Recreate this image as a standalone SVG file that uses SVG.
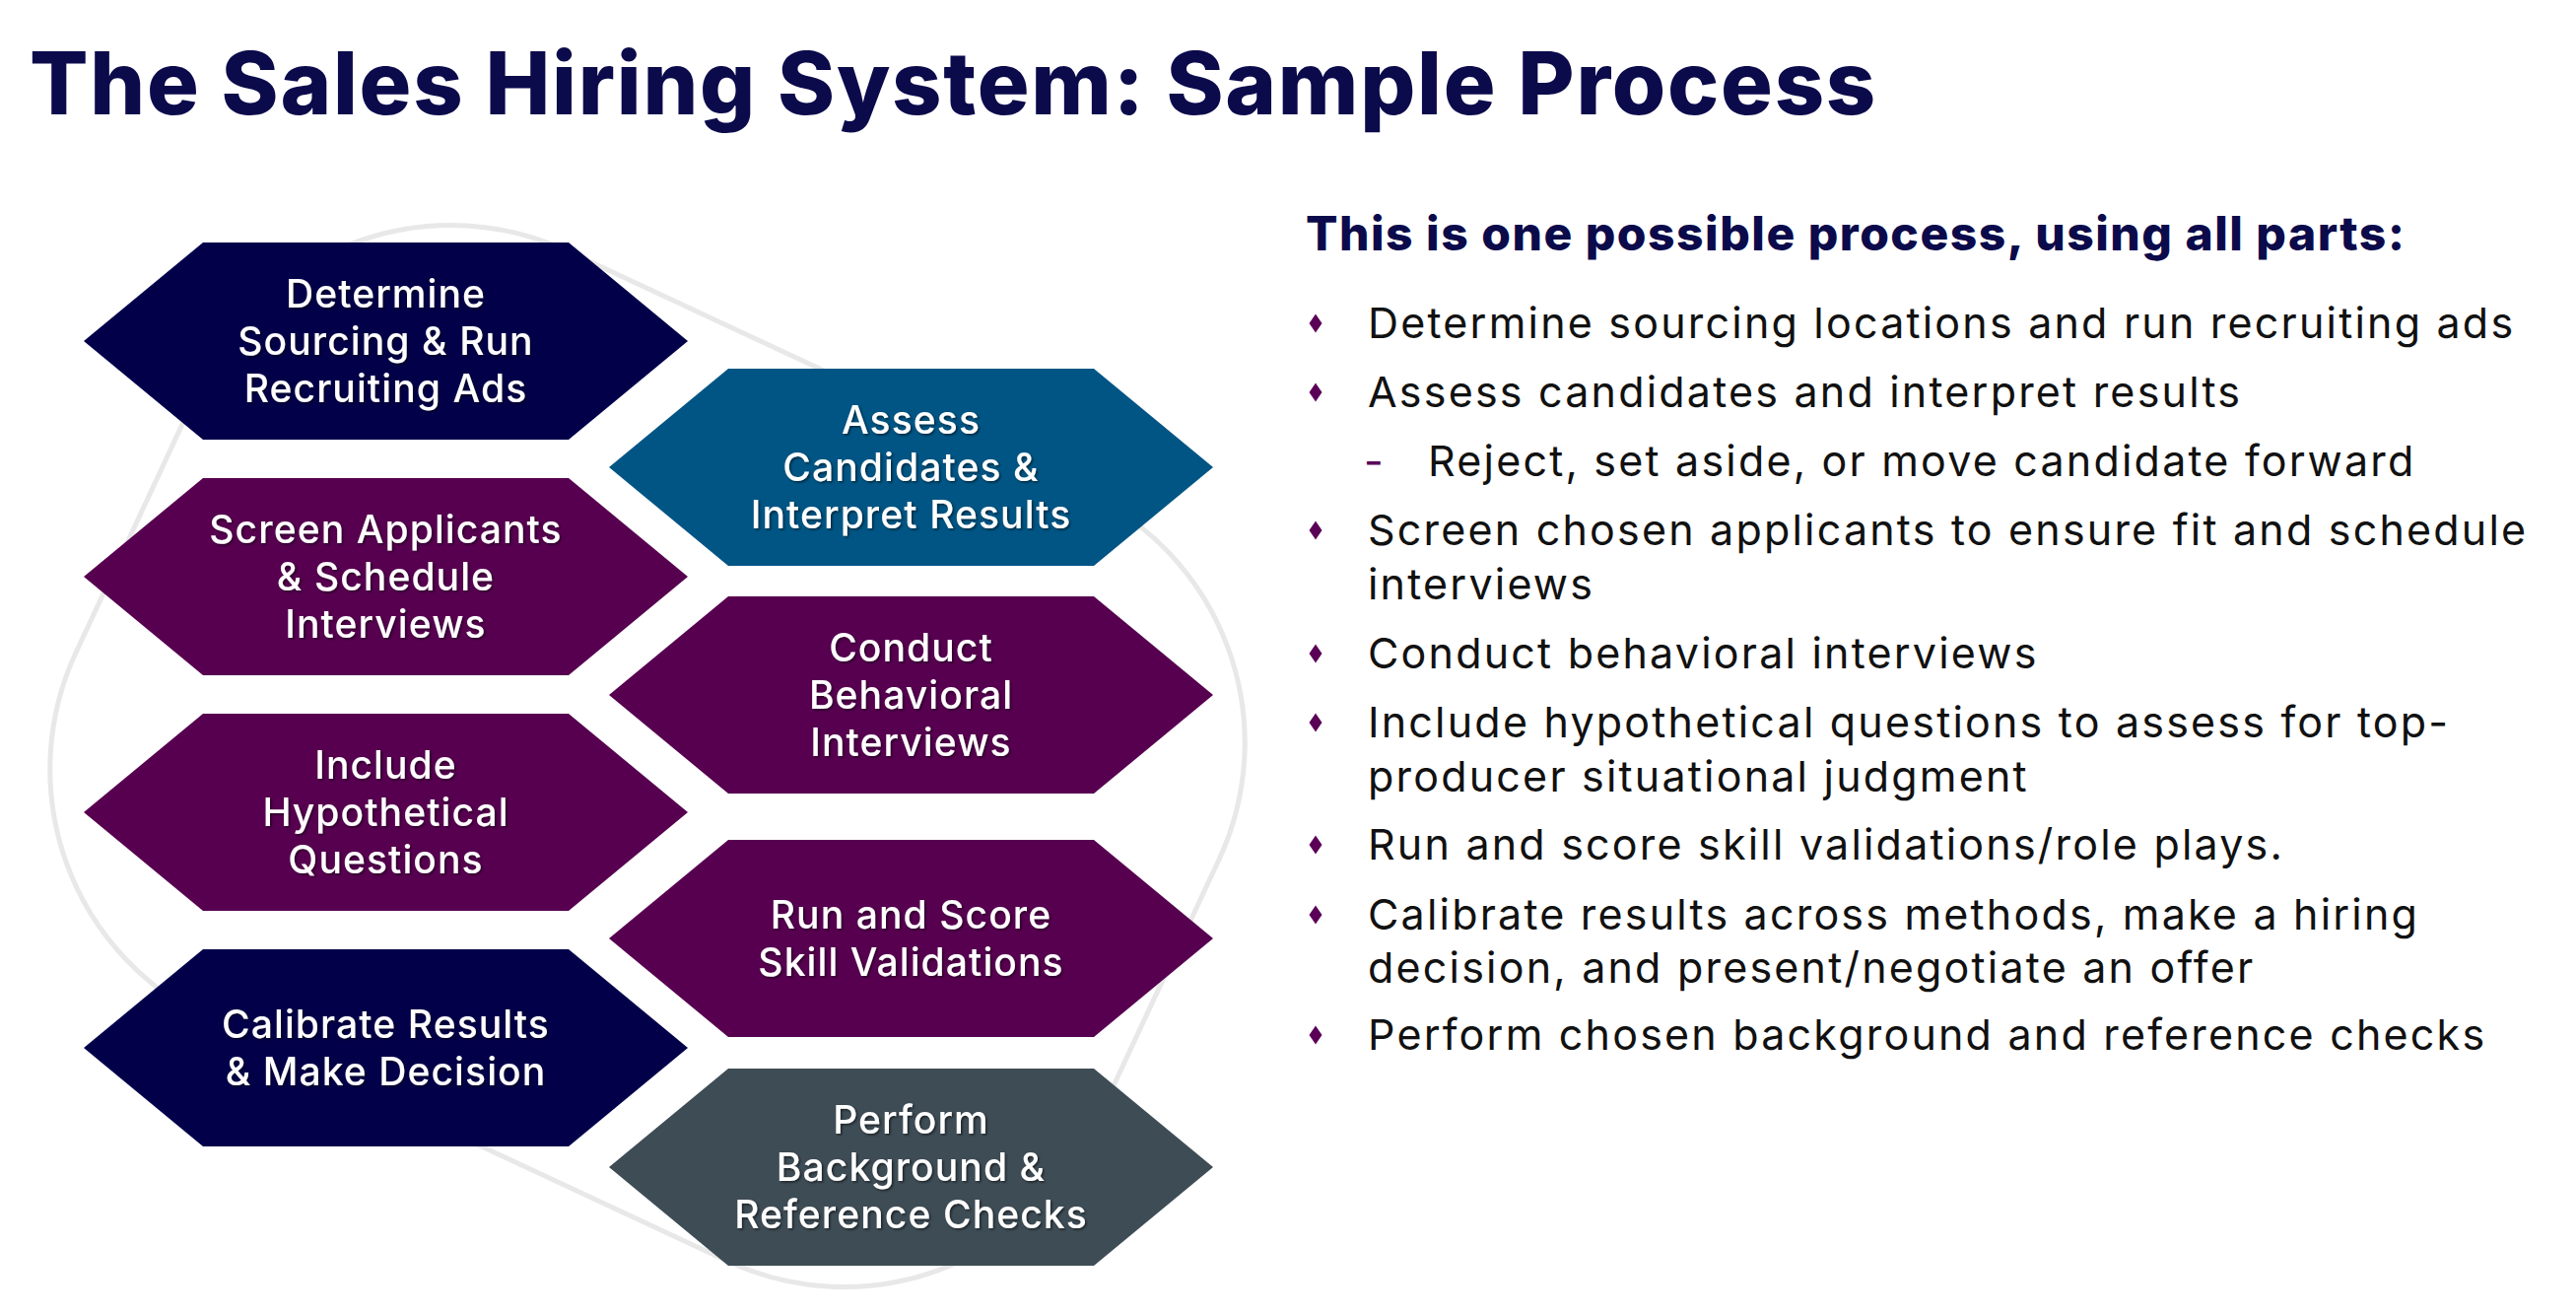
<svg xmlns="http://www.w3.org/2000/svg" width="2614" height="1334" viewBox="0 0 2614 1334">
<defs>
<style>
.hex-text{font-family:Inter,"Noto Sans",sans-serif;font-weight:500;font-size:39px;letter-spacing:1.1px;fill:#ffffff;text-anchor:middle;filter:url(#sh)}
.navy{fill:#03004a}
.purple{fill:#570050}
.teal{fill:#005584}
.gray{fill:#3e4c55}
.bullet{font-family:Inter,"Noto Sans",sans-serif;font-weight:400;font-size:43px;letter-spacing:2.2px;fill:#111111}
.dia{fill:#5a0057}
</style>
<filter id="sh" x="-10%" y="-30%" width="120%" height="160%">
<feDropShadow dx="1.5" dy="1.5" stdDeviation="1.2" flood-color="#000000" flood-opacity="0.55"/>
</filter>
<polygon id="hexL" points="0,100 121,0 492,0 613,100 492,200 121,200"/>
<path id="dmd" d="M0,-9.5 L6.5,0 L0,9.5 L-6.5,0 Z"/>
</defs>
<rect width="2614" height="1334" fill="#ffffff"/>
<text x="30" y="116" font-family="Inter,'Noto Sans',sans-serif" font-weight="800" font-size="88" letter-spacing="1.75" fill="#0b0a4b">The Sales Hiring System: Sample Process</text>

<g id="outline">
<rect x="-570" y="-430" width="1140" height="860" rx="280" ry="280" transform="translate(657,767) rotate(25)" fill="none" stroke="#e8e8e8" stroke-width="5"/>
</g>

<g id="n1">
<use href="#hexL" x="85" y="246" class="navy"/>
<text class="hex-text"><tspan x="391.5" y="312">Determine</tspan><tspan x="391.5" y="360">Sourcing &amp; Run</tspan><tspan x="391.5" y="408">Recruiting Ads</tspan></text>
</g>
<g id="n2">
<use href="#hexL" x="618" y="374" class="teal"/>
<text class="hex-text"><tspan x="924.5" y="440">Assess</tspan><tspan x="924.5" y="488">Candidates &amp;</tspan><tspan x="924.5" y="536">Interpret Results</tspan></text>
</g>
<g id="n3">
<use href="#hexL" x="85" y="485" class="purple"/>
<text class="hex-text"><tspan x="391.5" y="551">Screen Applicants</tspan><tspan x="391.5" y="599">&amp; Schedule</tspan><tspan x="391.5" y="647">Interviews</tspan></text>
</g>
<g id="n4">
<use href="#hexL" x="618" y="605" class="purple"/>
<text class="hex-text"><tspan x="924.5" y="671">Conduct</tspan><tspan x="924.5" y="719">Behavioral</tspan><tspan x="924.5" y="767">Interviews</tspan></text>
</g>
<g id="n5">
<use href="#hexL" x="85" y="724" class="purple"/>
<text class="hex-text"><tspan x="391.5" y="790">Include</tspan><tspan x="391.5" y="838">Hypothetical</tspan><tspan x="391.5" y="886">Questions</tspan></text>
</g>
<g id="n6">
<use href="#hexL" x="618" y="852" class="purple"/>
<text class="hex-text"><tspan x="924.5" y="942">Run and Score</tspan><tspan x="924.5" y="990">Skill Validations</tspan></text>
</g>
<g id="n7">
<use href="#hexL" x="85" y="963" class="navy"/>
<text class="hex-text"><tspan x="391.5" y="1053">Calibrate Results</tspan><tspan x="391.5" y="1101">&amp; Make Decision</tspan></text>
</g>
<g id="n8">
<use href="#hexL" x="618" y="1084" class="gray"/>
<text class="hex-text"><tspan x="924.5" y="1150">Perform</tspan><tspan x="924.5" y="1198">Background &amp;</tspan><tspan x="924.5" y="1246">Reference Checks</tspan></text>
</g>

<g id="connectors"></g>

<g id="list">
<text x="1325" y="254" font-family="Inter,'Noto Sans',sans-serif" font-weight="800" font-size="48" letter-spacing="1.5" fill="#0b0a4b">This is one possible process, using all parts:</text>
<use href="#dmd" x="1335" y="328" class="dia"/>
<text class="bullet" x="1388" y="343">Determine sourcing locations and run recruiting ads</text>
<use href="#dmd" x="1335" y="398" class="dia"/>
<text class="bullet" x="1388" y="413">Assess candidates and interpret results</text>
<text x="1384" y="483" font-family="Inter,'Noto Sans',sans-serif" font-size="43" fill="#5a0057">-</text>
<text class="bullet" x="1449" y="483">Reject, set aside, or move candidate forward</text>
<use href="#dmd" x="1335" y="538" class="dia"/>
<text class="bullet"><tspan x="1388" y="553">Screen chosen applicants to ensure fit and schedule</tspan><tspan x="1388" y="608">interviews</tspan></text>
<use href="#dmd" x="1335" y="663" class="dia"/>
<text class="bullet" x="1388" y="678">Conduct behavioral interviews</text>
<use href="#dmd" x="1335" y="733" class="dia"/>
<text class="bullet"><tspan x="1388" y="748">Include hypothetical questions to assess for top-</tspan><tspan x="1388" y="803">producer situational judgment</tspan></text>
<use href="#dmd" x="1335" y="857" class="dia"/>
<text class="bullet" x="1388" y="872">Run and score skill validations/role plays.</text>
<use href="#dmd" x="1335" y="928" class="dia"/>
<text class="bullet"><tspan x="1388" y="943">Calibrate results across methods, make a hiring</tspan><tspan x="1388" y="997">decision, and present/negotiate an offer</tspan></text>
<use href="#dmd" x="1335" y="1050" class="dia"/>
<text class="bullet" x="1388" y="1065">Perform chosen background and reference checks</text>
</g>
</svg>
